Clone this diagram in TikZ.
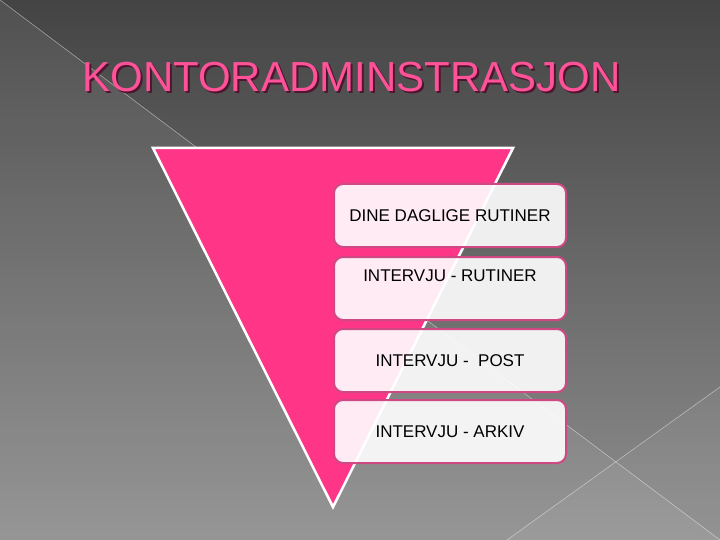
\documentclass[tikz,border=0pt]{standalone}
\usepackage{fontspec}
\setmainfont{Liberation Sans}
\usepackage{tikz}
\definecolor{bgtop}{RGB}{68,68,68}
\definecolor{bgmid}{RGB}{88,88,88}
\definecolor{bgbot}{RGB}{142,142,142}
\definecolor{funnelpink}{RGB}{255,54,136}
\definecolor{titlepink}{RGB}{255,82,152}
\definecolor{titleshade}{RGB}{80,22,48}
\definecolor{rimpink}{RGB}{206,72,132}
\tikzset{
  stepbox/.style={draw=rimpink,line width=2pt,fill=white,fill opacity=0.9,
    text opacity=1,rounded corners=9pt,minimum width=232pt,minimum height=63pt,
    font=\fontsize{17}{20}\selectfont,inner sep=0pt},
  sheen/.style={white,line width=0.6pt,opacity=0.45}
}
\def\ttext{KONTORADMINSTRASJON}

\begin{document}
\begin{tikzpicture}[x=1pt,y=-1pt]
                \useasboundingbox (0,0) rectangle (720,540);
                % background
                \shade[top color=bgtop,middle color=bgmid,bottom color=bgbot]
                  (0,0) rectangle (720,540);
                \fill[white,opacity=0.07] (0,0) -- (720,540) -- (0,540) -- cycle;
                \fill[white,opacity=0.05] (507,540) -- (720,387) -- (720,540) -- cycle;
                \draw[sheen] (0,0) -- (720,540);
                \draw[sheen] (507,540) -- (720,387);
                % title
                \node[anchor=base,text=titleshade,font=\fontsize{42}{46}\selectfont]
                  at (353.5,94) {\ttext};
                \node (title) [anchor=base,text=titlepink,font=\fontsize{42}{46}\selectfont]
                  at (351.5,92) {\ttext};
                % funnel
                \coordinate (tl) at (153,148);
                \coordinate (tr) at (513,148);
                \coordinate (tip) at (333,507);
                \draw[white,line width=2.5pt,fill=funnelpink,line join=miter]
                  (tl) -- (tr) -- (tip) -- cycle;
                % steps
                \node (b1) [stepbox] at (450,215.5) {DINE DAGLIGE RUTINER};
                \node (b2) [stepbox,text height=12pt,text depth=26pt] at (450,288.5) {INTERVJU - RUTINER};
                \node (b3) [stepbox] at (450,360.5) {INTERVJU -\ \ POST};
                \node (b4) [stepbox] at (450,431.5) {INTERVJU - ARKIV};
            \end{tikzpicture}
\end{document}
